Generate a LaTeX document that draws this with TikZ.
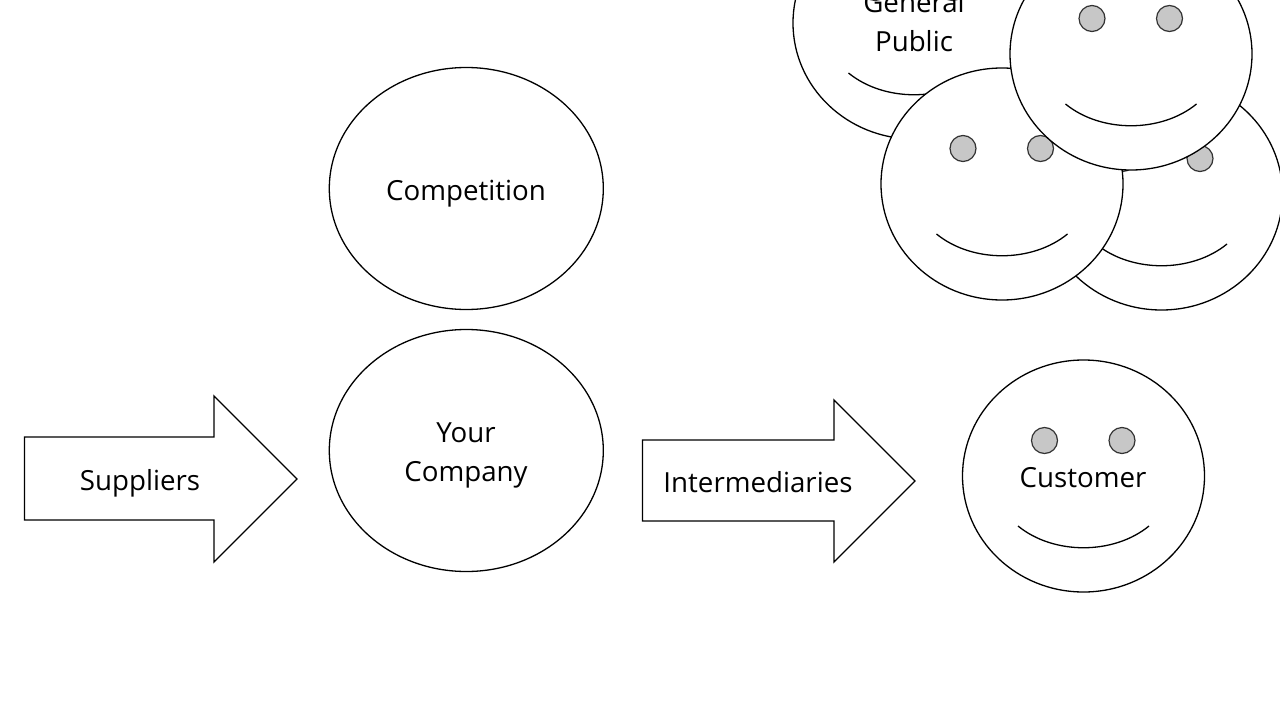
\documentclass[tikz,border=0pt]{standalone}
\usepackage{fontspec}
\setmainfont{Open Sans}
\usetikzlibrary{shapes.geometric}
\tikzset{
  x=1pt,y=-1pt,
  shape line/.style={draw=black,line width=1.3pt,fill=white},
  face/.style={shape line,ellipse,minimum width=242pt,minimum height=232pt,inner sep=0pt},
  bigoval/.style={shape line,ellipse,minimum width=274pt,minimum height=242pt,inner sep=0pt},
  eye/.style={draw=black!80,line width=1.2pt,fill=black!22,circle,minimum size=26pt,inner sep=0pt},
  smile/.style={draw=black,line width=1.3pt},
  label/.style={font=\fontsize{27.7}{39}\selectfont,align=center,inner sep=0pt}
}
\newcommand{\smileyface}[3]{%
  \node[face] (#1) at (#2,#3) {};
  \node[eye] (#1l) at (#2-39,#3-35.5) {};
  \node[eye] (#1r) at (#2+38.5,#3-35.5) {};
  \draw[smile] (#2-65.5,#3+50) .. controls (#2-30,#3+79) and (#2+30,#3+79) .. (#2+65.5,#3+50);
}
\begin{document}
\begin{tikzpicture}
\useasboundingbox (0,0) rectangle (1280,720);
\smileyface{pub}{914}{23}
\node[label] (publabel) at (914,22) {General\\Public};
\smileyface{fr}{1161.5}{194}
\smileyface{fl}{1002}{184}
\smileyface{ft}{1131}{54}
\node[bigoval] (comp) at (466.3,188.5) {};
\node[label] at (466,194) {Competition};
\node[bigoval] (your) at (466.3,450.5) {};
\node[label] at (466,455.5) {Your\\Company};
\draw[shape line] (24.4,437) -- (214,437) -- (214,396) -- (297,479) -- (214,562) -- (214,520) -- (24.4,520) -- cycle;
\node[label] (sup) at (140,483) {Suppliers};
\draw[shape line] (642.4,440) -- (834,440) -- (834,400) -- (915,481) -- (834,562) -- (834,521) -- (642.4,521) -- cycle;
\node[label] (int) at (758,482) {Intermediaries};
\smileyface{cu}{1083.5}{476}
\node[label] (cul) at (1083,477.5) {Customer};
\end{tikzpicture}
\end{document}
